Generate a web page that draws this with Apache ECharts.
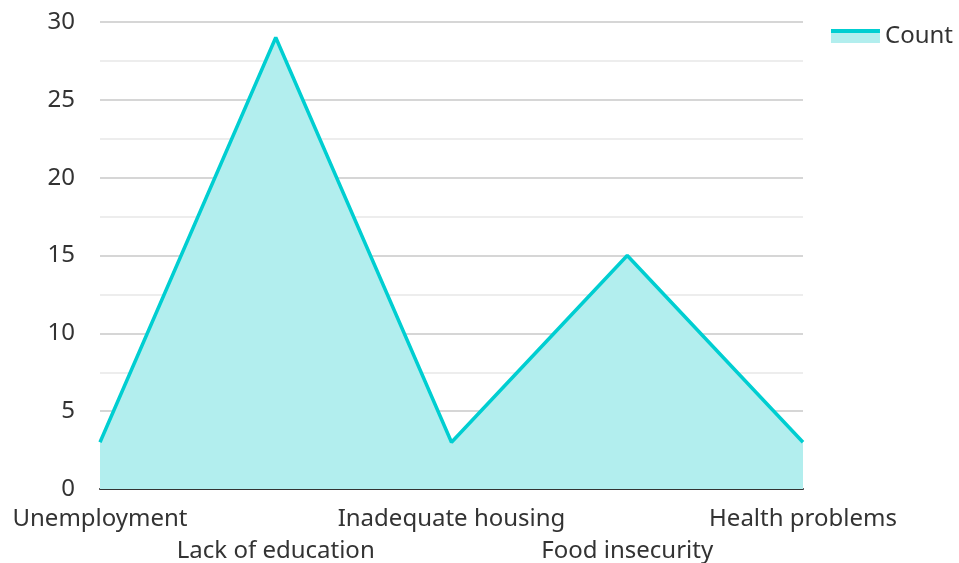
<!DOCTYPE html>
<html>
<head>
<meta charset="utf-8">
<script src="https://cdn.jsdelivr.net/npm/echarts@6/dist/echarts.min.js"></script>
<style>
    html, body { margin: 0; padding: 0; background: #fff; }
    #chart { width: 959px; height: 563px; }
</style>
</head>
<body>
<div id="chart"></div>
<script>
// 数据
const categories = ['Unemployment', 'Lack of education', 'Inadequate housing', 'Food insecurity', 'Health problems'];
const counts = [3, 29, 3, 15, 3];
const seriesName = 'Count';

const LINE_COLOR = '#00CED1';
const AREA_COLOR = '#b2eeee';
const FONT = 'Noto Sans';

const chart = echarts.init(document.getElementById('chart'));

chart.setOption({
    textStyle: { fontFamily: FONT },
    animation: false,
    grid: { left: 100, right: 156, top: 22, bottom: 74, outerBoundsMode: 'none' },
    legend: {
        right: 1,
        top: 19,
        icon: 'rect',
        itemWidth: 49,
        itemHeight: 14,
        itemGap: 10,
        textStyle: { fontSize: 24, color: '#333', fontFamily: FONT },
        itemStyle: {
            color: {
                type: 'linear', x: 0, y: 0, x2: 0, y2: 1,
                colorStops: [
                    { offset: 0, color: LINE_COLOR },
                    { offset: 0.3, color: LINE_COLOR },
                    { offset: 0.3, color: AREA_COLOR },
                    { offset: 1, color: AREA_COLOR }
                ]
            }
        },
        data: [seriesName]
    },
    xAxis: {
        type: 'category',
        data: categories,
        boundaryGap: false,
        axisLine: { lineStyle: { color: '#333', width: 2 } },
        axisTick: { show: false },
        axisLabel: {
            interval: 0,
            margin: 14,
            fontSize: 24,
            color: '#333',
            lineHeight: 32,
            formatter: (v, i) => (i % 2 === 1 ? '\n' + v : v)
        }
    },
    yAxis: {
        type: 'value',
        min: 0,
        max: 30,
        interval: 5,
        axisLine: { show: false },
        axisTick: { show: false },
        axisLabel: { fontSize: 24, color: '#333', margin: 25 },
        splitLine: { lineStyle: { color: '#c8c8c8', width: 1.5 } },
        minorTick: { show: false, splitNumber: 2 },
        minorSplitLine: { show: true, lineStyle: { color: '#e8e8e8', width: 1.5 } }
    },
    series: [{
        name: seriesName,
        type: 'line',
        data: counts,
        symbol: 'none',
        lineStyle: { color: LINE_COLOR, width: 3.5 },
        itemStyle: { color: LINE_COLOR },
        areaStyle: { color: AREA_COLOR, opacity: 1 }
    }]
});
</script>
</body>
</html>
